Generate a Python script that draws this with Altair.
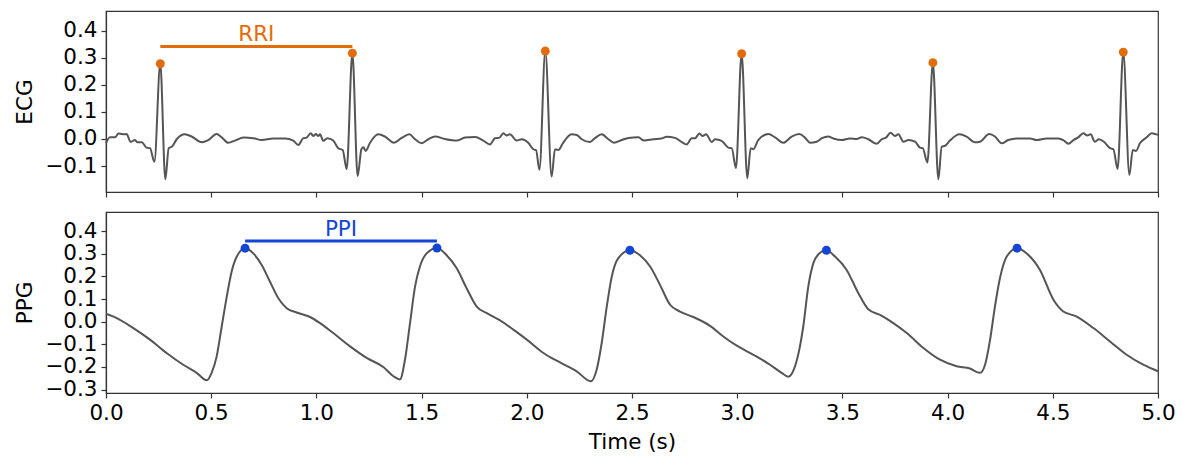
import altair as alt
import pandas as pd

FONT = "DejaVu Sans"
LINE = "#555555"
ORANGE = "#E36C0A"
BLUE = "#1446D3"
FRAME = "#333333"
FS = 21.5

# ECG trace (time in s, amplitude)
ecg_t = [0.000, 0.019, 0.043, 0.059, 0.090, 0.098, 0.117, 0.138, 0.149, 0.170,
         0.193, 0.209, 0.230, 0.258, 0.282, 0.298, 0.314, 0.336, 0.375, 0.407,
         0.455, 0.486, 0.526, 0.550, 0.581, 0.613, 0.653, 0.700, 0.740, 0.795,
         0.851, 0.890, 0.914, 0.938, 0.953, 0.973, 0.985, 0.998, 1.009, 1.017,
         1.033, 1.052, 1.080, 1.104, 1.125, 1.144, 1.171, 1.196, 1.214, 1.224,
         1.234, 1.255, 1.294, 1.326, 1.369, 1.405, 1.442, 1.469, 1.500, 1.532,
         1.564, 1.611, 1.667, 1.706, 1.754, 1.793, 1.825, 1.849, 1.870, 1.888,
         1.904, 1.920, 1.952, 1.976, 2.007, 2.031, 2.044, 2.060, 2.088, 2.118,
         2.134, 2.150, 2.171, 2.213, 2.237, 2.261, 2.300, 2.324, 2.356, 2.388,
         2.414, 2.451, 2.483, 2.530, 2.557, 2.601, 2.641, 2.665, 2.704, 2.760,
         2.784, 2.800, 2.820, 2.836, 2.852, 2.879, 2.895, 2.926, 2.958, 2.974,
         2.994, 3.021, 3.048, 3.064, 3.077, 3.100, 3.148, 3.180, 3.219, 3.259,
         3.295, 3.322, 3.346, 3.378, 3.401, 3.433, 3.457, 3.496, 3.536, 3.568,
         3.592, 3.623, 3.663, 3.687, 3.707, 3.729, 3.750, 3.766, 3.790, 3.814,
         3.845, 3.869, 3.882, 3.904, 3.930, 3.956, 3.972, 3.988, 4.011, 4.056,
         4.090, 4.130, 4.154, 4.198, 4.225, 4.257, 4.288, 4.328, 4.392, 4.423,
         4.471, 4.526, 4.550, 4.574, 4.598, 4.621, 4.645, 4.664, 4.680, 4.700,
         4.719, 4.743, 4.772, 4.788, 4.808, 4.835, 4.864, 4.880, 4.896, 4.914,
         4.946, 4.970, 5.000]
ecg_v = [-0.016, 0.006, 0.006, 0.020, 0.017, 0.018, -0.011, -0.004, -0.012, -0.012,
         -0.032, -0.034, -0.084, 0.278, -0.149, -0.034, -0.028, -0.001, 0.017, 0.009,
         -0.012, -0.004, 0.018, 0.006, -0.014, -0.006, 0.005, 0.003, -0.004, 0.002,
         0.002, -0.006, -0.022, 0.003, 0.005, 0.021, 0.011, 0.018, 0.011, 0.017,
         -0.007, 0.003, -0.006, -0.034, -0.041, -0.111, 0.317, -0.137, -0.038, -0.031,
         -0.044, -0.014, 0.017, 0.009, -0.014, 0.004, 0.017, -0.001, -0.016, -0.001,
         0.009, 0.000, -0.006, 0.005, 0.007, -0.006, -0.020, 0.003, 0.005, 0.021,
         0.013, 0.017, -0.006, -0.001, -0.014, -0.038, -0.041, -0.114, 0.325, -0.139,
         -0.038, -0.041, -0.016, 0.017, 0.015, -0.001, -0.011, 0.003, 0.017, -0.001,
         -0.014, -0.004, 0.004, 0.006, -0.006, -0.001, 0.002, 0.008, 0.004, -0.020,
         0.003, 0.003, 0.020, 0.011, 0.017, -0.011, -0.001, -0.007, -0.032, -0.034,
         -0.108, 0.315, -0.145, -0.034, -0.038, -0.004, 0.018, 0.006, -0.014, 0.009,
         0.018, 0.005, -0.014, -0.010, 0.002, 0.009, 0.002, -0.004, 0.002, 0.000,
         0.006, -0.001, -0.018, -0.001, 0.005, 0.023, 0.011, 0.017, -0.010, -0.004,
         -0.010, -0.032, -0.034, -0.087, 0.282, -0.149, -0.028, -0.025, -0.006, 0.017,
         0.009, -0.012, -0.010, 0.018, 0.009, -0.016, -0.004, 0.002, 0.002, -0.004,
         0.002, 0.002, -0.004, -0.018, -0.004, 0.006, 0.021, 0.013, 0.017, -0.010,
         -0.001, -0.010, -0.034, -0.038, -0.111, 0.321, -0.133, -0.041, -0.044, -0.016,
         0.006, 0.021, 0.015]

# detected R peaks
r_peak_t = [0.258, 1.171, 2.088, 3.021, 3.930, 4.835]
r_peak_v = [0.278, 0.317, 0.325, 0.315, 0.282, 0.321]

# PPG trace (time in s, amplitude)
ppg_t = [0.000, 0.051, 0.130, 0.209, 0.288, 0.367, 0.431, 0.479, 0.502, 0.526,
         0.550, 0.574, 0.597, 0.621, 0.661, 0.700, 0.740, 0.779, 0.819, 0.859,
         0.906, 0.970, 1.017, 1.080, 1.160, 1.239, 1.318, 1.366, 1.397, 1.421,
         1.445, 1.469, 1.492, 1.524, 1.573, 1.619, 1.667, 1.714, 1.762, 1.810,
         1.873, 1.936, 2.000, 2.079, 2.158, 2.237, 2.304, 2.332, 2.356, 2.380,
         2.404, 2.435, 2.490, 2.538, 2.586, 2.633, 2.681, 2.728, 2.791, 2.871,
         2.934, 2.998, 3.077, 3.156, 3.211, 3.243, 3.275, 3.298, 3.314, 3.338,
         3.362, 3.386, 3.424, 3.465, 3.520, 3.576, 3.623, 3.679, 3.742, 3.806,
         3.885, 3.964, 4.043, 4.106, 4.154, 4.178, 4.202, 4.225, 4.249, 4.281,
         4.330, 4.376, 4.439, 4.503, 4.550, 4.614, 4.693, 4.772, 4.851, 4.930,
         5.000]
ppg_v = [0.035, 0.016, -0.028, -0.079, -0.138, -0.190, -0.226, -0.259, -0.226, -0.153,
         -0.021, 0.111, 0.221, 0.287, 0.325, 0.302, 0.251, 0.178, 0.104, 0.060,
         0.041, 0.021, -0.006, -0.050, -0.109, -0.160, -0.200, -0.241, -0.255, -0.168,
         -0.006, 0.156, 0.244, 0.302, 0.326, 0.294, 0.236, 0.148, 0.067, 0.038,
         0.006, -0.035, -0.079, -0.138, -0.180, -0.219, -0.263, -0.212, -0.094, 0.067,
         0.200, 0.281, 0.316, 0.294, 0.244, 0.163, 0.075, 0.045, 0.021, -0.018,
         -0.065, -0.106, -0.146, -0.190, -0.226, -0.243, -0.196, -0.110, -0.021, 0.156,
         0.259, 0.298, 0.316, 0.288, 0.229, 0.126, 0.055, 0.030, -0.006, -0.050,
         -0.116, -0.168, -0.197, -0.207, -0.226, -0.190, -0.079, 0.067, 0.193, 0.288,
         0.325, 0.302, 0.229, 0.097, 0.045, 0.023, -0.028, -0.087, -0.146, -0.190,
         -0.219]

# detected systolic peaks
ppg_peak_t = [0.661, 1.573, 2.490, 3.424, 4.330]
ppg_peak_v = [0.325, 0.326, 0.316, 0.316, 0.325]

# interval annotations: name and height of the bracket
interval_names = ["RRI", "PPI"]
interval_levels = [0.342, 0.357]

x_ticks = [0.0, 0.5, 1.0, 1.5, 2.0, 2.5, 3.0, 3.5, 4.0, 4.5, 5.0]


def panel(sig_t, sig_v, pk_t, pk_v, name, level, color, ytitle, ydomain, yticks, bottom):
    sig = pd.DataFrame({"t": sig_t, "v": sig_v})
    pk = pd.DataFrame({"t": pk_t, "v": pk_v})
    iv = pd.DataFrame({"start": [pk_t[0]], "end": [pk_t[1]], "level": [level], "name": [name]})

    if bottom:
        xaxis = alt.Axis(values=x_ticks, format=".1f", title="Time (s)",
                         labelOverlap=False, labelFlush=False, labelBound=False)
    else:
        xaxis = alt.Axis(values=x_ticks, labels=False, title=None)
    xscale = alt.Scale(domain=[0, 5], nice=False, zero=False)
    yscale = alt.Scale(domain=ydomain, nice=False, zero=False)
    yaxis = alt.Axis(values=yticks, format=".1f", title=ytitle,
                     labelOverlap=False, labelSeparation=0, labelBound=False, labelFlush=False)

    line = alt.Chart(sig).mark_line(color=LINE, strokeWidth=2, interpolate="monotone").encode(
        x=alt.X("t:Q", scale=xscale, axis=xaxis),
        y=alt.Y("v:Q", scale=yscale, axis=yaxis),
    )
    bracket = alt.Chart(iv).mark_rule(color=color, strokeWidth=3).encode(
        x=alt.X("start:Q", scale=xscale, axis=xaxis),
        x2="end:Q",
        y=alt.Y("level:Q", scale=yscale, axis=yaxis),
    )
    label = alt.Chart(iv).transform_calculate(mid="(datum.start + datum.end) / 2").mark_text(
        color=color, font=FONT, fontSize=FS, baseline="alphabetic", align="center", dy=-5
    ).encode(
        x=alt.X("mid:Q", scale=xscale, axis=xaxis),
        y=alt.Y("level:Q", scale=yscale, axis=yaxis),
        text="name:N",
    )
    dots = alt.Chart(pk).mark_circle(color=color, size=80, opacity=1).encode(
        x=alt.X("t:Q", scale=xscale, axis=xaxis),
        y=alt.Y("v:Q", scale=yscale, axis=yaxis),
    )
    return alt.layer(line, bracket, label, dots).properties(width=1052, height=181)


top = panel(ecg_t, ecg_v, r_peak_t, r_peak_v, interval_names[0], interval_levels[0], ORANGE,
            "ECG", [-0.196, 0.473], [-0.1, 0.0, 0.1, 0.2, 0.3, 0.4], False)
bottom = panel(ppg_t, ppg_v, ppg_peak_t, ppg_peak_v, interval_names[1], interval_levels[1], BLUE,
               "PPG", [-0.315, 0.485], [-0.3, -0.2, -0.1, 0.0, 0.1, 0.2, 0.3, 0.4], True)

chart = alt.vconcat(top, bottom, spacing=12).properties(
    padding={"left": 14, "top": 10, "right": 5, "bottom": 5},
    background="white",
).configure_view(
    stroke=FRAME, strokeWidth=1.2
).configure_axis(
    labelFont=FONT, titleFont=FONT, labelFontSize=FS, titleFontSize=FS,
    labelColor="black", titleColor="black", titleFontWeight="normal",
    tickColor=FRAME, domainColor=FRAME, tickSize=5, tickWidth=1.2, domainWidth=1.2,
    labelPadding=4, titlePadding=8, grid=False, labelOverlap=False, labelFlush=False,
)

chart.save("out.html", embed_options={"renderer": "svg", "actions": False})
